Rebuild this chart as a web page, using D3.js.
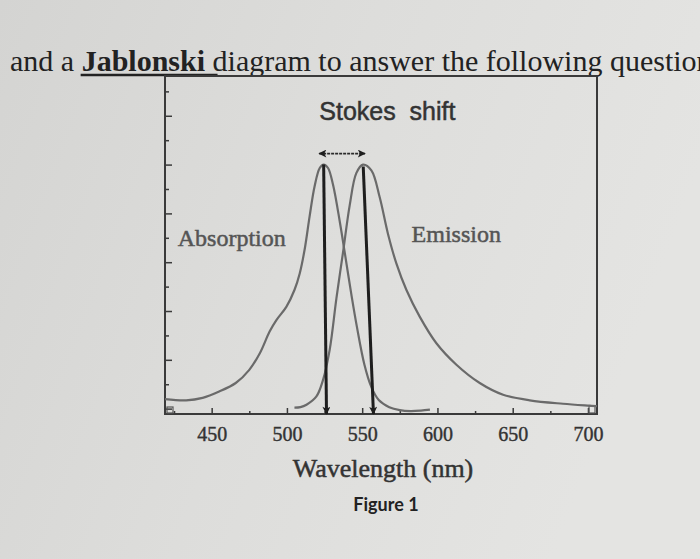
<!DOCTYPE html>
<html>
<head>
<meta charset="utf-8">
<script src="https://cdn.jsdelivr.net/npm/d3@7"></script>
<style>
  html, body { margin: 0; padding: 0; background: #dededc; }
  svg { display: block; }
</style>
</head>
<body>
<svg id="chart" width="700" height="559"></svg>
<script>
// ---- data ----
const absorptionWavelength = [419, 433, 444, 455, 466, 475, 482, 488.5, 493, 499.6, 505, 508.5, 511.8, 515.1, 518.4, 521.8, 524.4, 527.3, 530.6, 535.1, 538.4, 542.8, 546.5, 551.5, 556, 561, 568, 575, 582, 589, 595];
const absorptionIntensity  = [0.039, 0.034, 0.044, 0.070, 0.105, 0.159, 0.227, 0.316, 0.363, 0.417, 0.486, 0.554, 0.653, 0.789, 0.911, 0.986, 1.0, 0.986, 0.918, 0.767, 0.640, 0.468, 0.335, 0.180, 0.090, 0.035, 0.006, -0.006, -0.010, -0.008, -0.004];

const emissionWavelength = [505, 509, 513, 519.6, 524, 528.4, 532.9, 537.2, 541.7, 546.1, 550.5, 556.1, 561.6, 567.1, 572.7, 579.4, 588.2, 599.3, 612.6, 628.1, 643.6, 661.3, 683.4, 701.2, 706];
const emissionIntensity  = [0.004, 0.006, 0.016, 0.050, 0.118, 0.241, 0.453, 0.637, 0.833, 0.965, 1.0, 0.976, 0.867, 0.717, 0.595, 0.486, 0.377, 0.268, 0.180, 0.105, 0.057, 0.034, 0.020, 0.012, 0.010];

const xTickValues = [450, 500, 550, 600, 650, 700];
const xMinorTicks = [425, 475, 525, 575, 625, 675];
const yMajorTicks = [0, 0.2, 0.4, 0.6, 0.8, 1.0, 1.2];
const yMinorTicks = [0.1, 0.3, 0.5, 0.7, 0.9, 1.1, 1.3];

// annotation arrows (data units)
const absorptionArrow = [[524.4, 1.0], [526.3, -0.022]];
const emissionArrow   = [[550.7, 0.992], [557.5, -0.022]];
const stokesArrow     = [[521.4, 1.045], [551.9, 1.045]];

const labels = {
  title: "Stokes\u00a0\u00a0shift",
  absorption: "Absorption",
  emission: "Emission",
  xAxis: "Wavelength (nm)",
  figure: "Figure 1"
};

// ---- drawing ----
const svg = d3.select("#chart");
const W = 700, H = 559;
const plot = { left: 165, right: 597, top: 76, bottom: 414 };

const defs = svg.append("defs");
const grad = defs.append("linearGradient").attr("id", "bg").attr("x1", "0").attr("y1", "0").attr("x2", "1").attr("y2", "0.3");
grad.append("stop").attr("offset", "0").attr("stop-color", "#d4d4d2");
grad.append("stop").attr("offset", "0.5").attr("stop-color", "#dddddb");
grad.append("stop").attr("offset", "1").attr("stop-color", "#e4e4e2");

const mk = (id, orient) => {
  defs.append("marker").attr("id", id)
    .attr("viewBox", "0 0 10 10").attr("refX", 9).attr("refY", 5)
    .attr("markerWidth", 9).attr("markerHeight", 8)
    .attr("markerUnits", "userSpaceOnUse")
    .attr("orient", orient)
    .append("path").attr("d", "M0,0 L10,5 L0,10 L2.5,5 Z").attr("fill", "#1e1e1e");
};
mk("arrowEnd", "auto");
mk("arrowStart", "auto-start-reverse");

svg.append("rect").attr("width", W).attr("height", H).attr("fill", "url(#bg)");

// top sentence
const sentence = svg.append("text")
  .attr("x", 10).attr("y", 71)
  .attr("font-family", "'Liberation Serif', 'DejaVu Serif', serif")
  .attr("font-size", 30).attr("fill", "#222");
sentence.append("tspan").text("and a ");
const jab = sentence.append("tspan").attr("font-weight", "bold").text("Jablonski");
sentence.append("tspan").text(" diagram to answer the following question");

const x = d3.scaleLinear().domain([419, 706]).range([plot.left, plot.right]);
const y = d3.scaleLinear().domain([-0.022, 1.363]).range([plot.bottom, plot.top]);

// underline of Jablonski
{
  const sNode = sentence.node();
  const start = sNode.getStartPositionOfChar(6).x;
  const end = sNode.getEndPositionOfChar(15).x;
  svg.append("line").attr("x1", start - 1).attr("x2", end + 5)
    .attr("y1", 75).attr("y2", 75)
    .attr("stroke", "#222").attr("stroke-width", 2.5);
}

// frame
svg.append("rect")
  .attr("x", plot.left).attr("y", plot.top)
  .attr("width", plot.right - plot.left).attr("height", plot.bottom - plot.top)
  .attr("fill", "none").attr("stroke", "#3a3a3a").attr("stroke-width", 2);

// y axis ticks (inside, no labels)
svg.append("g").attr("transform", `translate(${plot.left},0)`)
  .call(d3.axisRight(y).tickValues(yMajorTicks).tickSize(7).tickFormat(""))
  .call(g => g.select(".domain").remove())
  .call(g => g.selectAll("line").attr("stroke", "#3a3a3a").attr("stroke-width", 1.5));
svg.append("g").attr("transform", `translate(${plot.left},0)`)
  .call(d3.axisRight(y).tickValues(yMinorTicks).tickSize(4).tickFormat(""))
  .call(g => g.select(".domain").remove())
  .call(g => g.selectAll("line").attr("stroke", "#3a3a3a").attr("stroke-width", 1.5));

// x axis ticks (inside) + labels
svg.append("g").attr("transform", `translate(0,${plot.bottom})`)
  .call(d3.axisTop(x).tickValues(xTickValues).tickSize(6).tickFormat(""))
  .call(g => g.select(".domain").remove())
  .call(g => g.selectAll("line").attr("stroke", "#3a3a3a").attr("stroke-width", 1.5));
svg.append("g").attr("transform", `translate(0,${plot.bottom})`)
  .call(d3.axisTop(x).tickValues(xMinorTicks).tickSize(3).tickFormat(""))
  .call(g => g.select(".domain").remove())
  .call(g => g.selectAll("line").attr("stroke", "#3a3a3a").attr("stroke-width", 1.5));
svg.append("g").attr("transform", `translate(0,${plot.bottom})`)
  .call(d3.axisBottom(x).tickValues(xTickValues).tickSize(0).tickPadding(27).tickFormat(d3.format("d")))
  .call(g => g.select(".domain").remove())
  .call(g => g.selectAll("text")
    .attr("font-family", "'Liberation Serif', 'DejaVu Serif', serif")
    .attr("font-size", 20).attr("fill", "#333").attr("dy", "0")
    .attr("stroke", "#333").attr("stroke-width", 0.4));

// small corner boxes
svg.append("rect").attr("x", plot.left + 2).attr("y", plot.bottom - 7).attr("width", 6).attr("height", 6)
  .attr("fill", "none").attr("stroke", "#555").attr("stroke-width", 1.2);
svg.append("rect").attr("x", plot.right - 8).attr("y", plot.bottom - 8).attr("width", 6).attr("height", 7)
  .attr("fill", "none").attr("stroke", "#555").attr("stroke-width", 1.2);

// curves
const line = d3.line().x(d => x(d[0])).y(d => y(d[1])).curve(d3.curveCatmullRom.alpha(0.5));
const absData = absorptionWavelength.map((w, i) => [w, absorptionIntensity[i]]);
const emiData = emissionWavelength.map((w, i) => [w, emissionIntensity[i]]);

svg.append("path").datum(absData).attr("d", line)
  .attr("fill", "none").attr("stroke", "#6a6a6a").attr("stroke-width", 2.2);
svg.append("path").datum(emiData).attr("d", line)
  .attr("fill", "none").attr("stroke", "#6a6a6a").attr("stroke-width", 2.2);

// arrows
const straight = d3.line().x(d => x(d[0])).y(d => y(d[1]));
[absorptionArrow, emissionArrow].forEach(a => {
  svg.append("path").attr("d", straight(a))
    .attr("fill", "none").attr("stroke", "#1e1e1e").attr("stroke-width", 3)
    .attr("marker-end", "url(#arrowEnd)");
});
svg.append("path").attr("d", straight(stokesArrow))
  .attr("fill", "none").attr("stroke", "#2a2a2a").attr("stroke-width", 1.8)
  .attr("stroke-dasharray", "3,1")
  .attr("marker-end", "url(#arrowEnd)").attr("marker-start", "url(#arrowStart)");

// labels
svg.append("text").attr("x", x(521.5)).attr("y", y(1.182))
  .attr("font-family", "'Liberation Sans', Arial, sans-serif")
  .attr("font-size", 25).attr("fill", "#333")
  .attr("stroke", "#333").attr("stroke-width", 0.5).text(labels.title);
svg.append("text").attr("x", x(427.5)).attr("y", y(0.665))
  .attr("font-family", "'Liberation Serif', serif")
  .attr("font-size", 24).attr("fill", "#555")
  .attr("stroke", "#555").attr("stroke-width", 0.5).text(labels.absorption);
svg.append("text").attr("x", x(582.8)).attr("y", y(0.682))
  .attr("font-family", "'Liberation Serif', serif")
  .attr("font-size", 24).attr("fill", "#555")
  .attr("stroke", "#555").attr("stroke-width", 0.5).text(labels.emission);
svg.append("text").attr("x", 383).attr("y", 477).attr("text-anchor", "middle")
  .attr("font-family", "'Liberation Serif', serif")
  .attr("font-size", 26).attr("fill", "#333")
  .attr("stroke", "#333").attr("stroke-width", 0.5).text(labels.xAxis);
svg.append("text").attr("x", 386).attr("y", 511).attr("text-anchor", "middle")
  .attr("font-family", "Lato, 'Open Sans', sans-serif").attr("font-weight", "bold")
  .attr("font-size", 18).attr("fill", "#222").text(labels.figure);
</script>
</body>
</html>
